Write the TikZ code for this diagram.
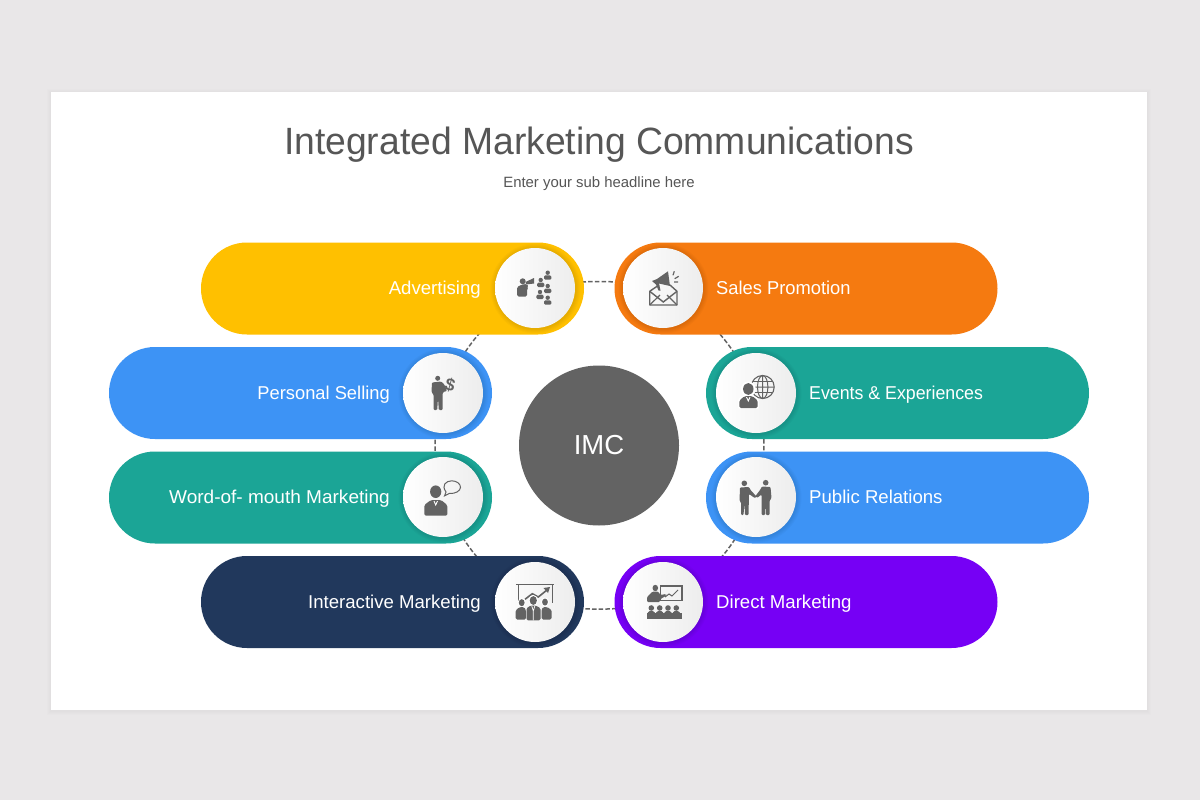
\documentclass[tikz,border=0pt]{standalone}
\usepackage{fontspec}
\setmainfont{Liberation Sans}
\usetikzlibrary{shapes.misc,backgrounds}
\definecolor{pagebg}{HTML}{E9E7E8}
\definecolor{ink}{HTML}{565656}
\definecolor{hubgrey}{HTML}{636363}
\definecolor{cyellow}{HTML}{FFC000}
\definecolor{cblue}{HTML}{3D93F5}
\definecolor{cteal}{HTML}{1BA596}
\definecolor{cnavy}{HTML}{21385C}
\definecolor{corange}{HTML}{F57A10}
\definecolor{cpurple}{HTML}{7600F5}
\definecolor{discend}{HTML}{EDEDED}
\pgfdeclarelayer{conn}
\pgfsetlayers{background,conn,main}
\tikzset{
  pill/.style={rounded rectangle,minimum width=383pt,minimum height=92pt,inner sep=0pt,fill=#1,draw=none},
  disc/.style={circle,minimum size=80pt,inner sep=0pt,left color=white,right color=discend,draw=none},
  lab/.style={text=white,inner sep=0pt,font=\fontsize{18.6}{22}\selectfont,transform shape},
  link/.style={draw=hubgrey,line width=1.5pt,dash pattern=on 4.5pt off 2.2pt},
  ic/.style={fill=hubgrey,draw=none},
  icl/.style={draw=hubgrey,line width=1.2pt,fill=none},
}
\newcommand{\discshadow}[2]{%
  \foreach \rr in {41,42,43,44,45}{\fill[black,opacity=0.02] (#1+0.5,#2+0.5) circle (\rr);}}
\newcommand{\bust}[6]{%
  \fill[ic] (#1,#2) circle (#3);
  \fill[ic,rounded corners=1.2pt] (#1-#4,#6) -- (#1-#4,#5) -- (#1+#4,#5) -- (#1+#4,#6) -- cycle;}
\begin{document}
\begin{tikzpicture}[x=1pt,y=-1pt]
\useasboundingbox (0,0) rectangle (1200,800);
% pills
\node[pill=cyellow] (padv) at (392.5,288.5) {};
\node[pill=cblue]   (ppers) at (300.5,393) {};
\node[pill=cteal]   (pwom) at (300.5,497.5) {};
\node[pill=cnavy]   (pinter) at (392.5,602) {};
\node[pill=corange] (psales) at (806,288.5) {};
\node[pill=cteal]   (pevent) at (897.5,393) {};
\node[pill=cblue]   (ppr) at (897.5,497.5) {};
\node[pill=cpurple] (pdirect) at (806,602) {};
% disc shadows
\discshadow{535}{288}\discshadow{443}{393}\discshadow{443}{497}\discshadow{535}{602}
\discshadow{663}{288}\discshadow{756}{393}\discshadow{756}{497}\discshadow{663}{602}
% discs
\node[disc] (dadv) at (535,288) {};
\node[disc] (dpers) at (443,393) {};
\node[disc] (dwom) at (443,497) {};
\node[disc] (dinter) at (535,602) {};
\node[disc] (dsales) at (663,288) {};
\node[disc] (devent) at (756,393) {};
\node[disc] (dpr) at (756,497) {};
\node[disc] (ddirect) at (663,602) {};
% hub
\node[circle,minimum size=160pt,inner sep=0pt,fill=hubgrey,text=white,font=\fontsize{27.5}{32}\selectfont] (hub) at (599,445.5) {IMC};
% titles
\node[text=ink,inner sep=0pt,font=\fontsize{38}{44}\selectfont,anchor=base,xscale=0.981,transform shape] (title) at (599,154) {Integrated Marketing Communications};
\node[text=ink,inner sep=0pt,font=\fontsize{14.9}{19}\selectfont,anchor=base] (subtitle) at (599,187.5) {Enter your sub headline here};
% labels
\node[lab,anchor=base east] (ladv) at (481,294) {Advertising};
\node[lab,anchor=base east,xscale=0.985] (lpers) at (390,399) {Personal Selling};
\node[lab,anchor=base east,xscale=1.023] (lwom) at (390,503) {Word-of- mouth Marketing};
\node[lab,anchor=base east] (linter) at (481,608) {Interactive Marketing};
\node[lab,anchor=base west,xscale=0.985] (lsales) at (716,294) {Sales Promotion};
\node[lab,anchor=base west,xscale=0.955] (levent) at (809,399) {Events \& Experiences};
\node[lab,anchor=base west] (lpr) at (809,503) {Public Relations};
\node[lab,anchor=base west] (ldirect) at (716,608) {Direct Marketing};
% icons
% advertising
\begin{scope}[shift={(dadv.center)}]
  \fill[ic] (-12.3,-6.7) circle (3);
  \fill[ic,rounded corners=1.5pt] (-18,8.5) -- (-18,-1) -- (-13,-3.5) -- (-8,-4) -- (-6.5,-1) -- (-8,1) -- (-8,8.5) -- cycle;
  \fill[ic] (-9.5,-6) -- (-1,-10) -- (-1,-4.5) -- (-9,-3.5) -- cycle;
  \foreach \px/\py in {12.7/-13.3,5.7/-6,12.7/0,5/6,12.7/11.7}{\bust{\px}{\py-2}{2.2}{3.6}{\py+0.7}{\py+5}}
\end{scope}
% sales
\begin{scope}[shift={(dsales.center)}]
  \draw[icl,line width=1.4pt,line join=round] (-4,-3) -- (-13.3,3.3) -- (-13.3,17) -- (14,17) -- (14,3.3) -- (7,-3);
  \draw[icl,line width=1.4pt] (-13.3,3.3) -- (0.3,14) -- (14,3.3);
  \draw[icl] (-13.3,17) -- (-3,7);
  \draw[icl] (14,17) -- (4,7);
  \fill[ic] (-11,-7) -- (-6,-9) -- (5,-16.7) -- (7,-2) -- (-4,-4.5) -- (-2.5,2.5) -- (-4.5,2.5) -- (-7,-3.5) -- cycle;
  \draw[icl] (10,-12.7) -- (11.3,-16.7) (11.7,-9.3) -- (15.7,-11.7) (11,-6) -- (15,-6);
\end{scope}
% personal selling
\begin{scope}[shift={(dpers.center)}]
  \fill[ic] (-5.3,-14.7) circle (2.5);
  \fill[ic,rounded corners=1pt] (-11,-10.5) -- (-2,-11.5) -- (1,-9) -- (4,-2) -- (0,-1) -- (-0.5,2) -- (-0.5,17) -- (-4.2,17) -- (-5,5) -- (-5.8,17) -- (-9.3,17) -- (-9.3,2) -- (-11.5,-1) -- cycle;
  \node[text=hubgrey,inner sep=0pt,font=\fontsize{17.5}{17}\selectfont\bfseries,rotate=-15] (dollar) at (7,-8) {\$};
\end{scope}
% word of mouth
\begin{scope}[shift={(dwom.center)}]
  \fill[ic] (-7.3,-5.3) ellipse (5.6 and 6.3);
  \fill[ic,rounded corners=1.5pt] (-18.7,18.7) -- (-18.7,8) -- (-12,3) -- (-2,3) -- (4.3,8) -- (4.3,18.7) -- cycle;
  \draw[white,line width=.9pt] (-9,4) -- (-7.3,8) -- (-5.5,4);
  \draw[icl,line width=1pt,fill=none] (1.6,-1.2) -- (3,-5) .. controls (-2,-12) and (3,-16) .. (8.7,-16.2) .. controls (14,-16.2) and (17.5,-13) .. (17.5,-9.7) .. controls (17.5,-6) and (12,-3) .. (6.5,-3.6) -- cycle;
\end{scope}
% events
\begin{scope}[shift={(devent.center)}]
  \draw[icl,line width=1.1pt] (6.7,-6) circle (11.5);
  \draw[icl,line width=1pt] (6.7,-6) ellipse (5.2 and 11.5) (6.7,-17.5) -- (6.7,5.5) (-4.8,-6) -- (18.2,-6);
  \draw[icl,line width=1pt] (-3,-11.5) -- (16.4,-11.5) (-3,-0.5) -- (16.4,-0.5);
  \fill[white] (-7.7,-4) circle (7.5);
  \fill[white,rounded corners=1.5pt] (-18,16) -- (-18,6) -- (-11,1.5) -- (-4,1.5) -- (3,6) -- (3,16) -- cycle;
  \fill[ic] (-7.7,-4) ellipse (5.2 and 6);
  \fill[ic,rounded corners=1.5pt] (-16.7,15) -- (-16.7,7.5) -- (-11.5,3.2) -- (-3.5,3.2) -- (1.7,7.5) -- (1.7,15) -- cycle;
  \draw[white,line width=.9pt] (-9.5,4) -- (-7.7,8) -- (-6,4);
\end{scope}
% public relations
\begin{scope}[shift={(dpr.center)}]
  \fill[ic] (-11.7,-13.7) circle (2.8);
  \fill[ic] (9.7,-14.3) circle (2.8);
  \fill[ic,rounded corners=1pt] (-16,-9.5) -- (-7,-10) -- (-5.5,-7) -- (0.5,-0.5) -- (-1,1.2) -- (-7,-3) -- (-7.5,18) -- (-11,18) -- (-11.5,6) -- (-12.5,18) -- (-15,18) -- (-15,5) -- (-16.5,4) -- cycle;
  \fill[ic,rounded corners=1pt] (14.5,-10) -- (6,-10.5) -- (4,-7) -- (-0.5,-1) -- (1,1) -- (5.5,-2.5) -- (5.5,18) -- (9,18) -- (9.5,6) -- (10,18) -- (13.5,18) -- (13.5,4) -- (15.5,1) -- cycle;
\end{scope}
% interactive
\begin{scope}[shift={(dinter.center)}]
  \draw[icl,line width=1.4pt] (-16.7,1) -- (-16.7,-17.7) (-18.7,-17.7) -- (19.3,-17.7) (17.7,-17.7) -- (17.7,1);
  \draw[icl,line width=1.6pt] (-10,-2.7) -- (-2.7,-8.3) -- (3.3,-5) -- (12,-12);
  \fill[ic] (15,-15) -- (8.5,-14) -- (13,-9) -- cycle;
  \fill[white] (-13.3,0.7) ellipse (4 and 4.6);
  \fill[white] (10,0) ellipse (4 and 4.6);
  \fill[white] (-1.7,-1.5) ellipse (4.7 and 5.5);
  \fill[ic] (-13.3,0.7) ellipse (2.9 and 3.5);
  \fill[ic,rounded corners=1.5pt] (-19.3,17.5) -- (-19.3,8) -- (-15,5) -- (-11,5) -- (-9,8) -- (-9,17.5) -- cycle;
  \fill[ic] (10,0) ellipse (2.9 and 3.5);
  \fill[ic,rounded corners=1.5pt] (6.5,17.5) -- (6.5,8) -- (8,5) -- (12,5) -- (16.7,8) -- (16.7,17.5) -- cycle;
  \fill[ic] (-1.7,-1.5) ellipse (3.6 and 4.4);
  \fill[ic,rounded corners=1.5pt] (-8.5,18.3) -- (-8.5,6) -- (-4,3.5) -- (0.5,3.5) -- (5.5,6) -- (5.5,18.3) -- cycle;
  \draw[white,line width=.7pt] (-3.2,4) -- (-1.7,9) -- (-0.2,4) (-1.7,9) -- (-1.7,18.3);
\end{scope}
% direct
\begin{scope}[shift={(ddirect.center)}]
  \draw[icl,line width=1.2pt] (-2.7,-16) rectangle (19,-1.7);
  \draw[icl,line width=1pt] (2,-5) -- (6,-8) -- (9,-6) -- (15,-12);
  \fill[ic] (-7.7,-14) ellipse (2.8 and 3.2);
  \fill[ic,rounded corners=1.2pt] (-16,0) -- (-16,-5) -- (-10.5,-10.5) -- (-5,-10.5) -- (-2.5,-7) -- (3,-8) -- (3.5,-6.5) -- (-2.5,-3) -- (-3,0) -- cycle;
  \foreach \px in {-11.7,-3.3,5,13.3}{%
    \fill[ic] (\px,6) circle (2.8);
    \fill[ic,rounded corners=1.5pt] (\px-4,12) -- (\px-3,9) -- (\px+3,9) -- (\px+4,12) -- cycle;}
  \fill[ic] (-16,11) rectangle (18.8,16.7);
\end{scope}
% connectors under the pills
\begin{pgfonlayer}{conn}
\draw[link] (dadv.center) to[bend left=10] (dsales.center);
\draw[link] (dsales.center) to[bend left=17] (devent.center);
\draw[link] (devent.center) to[bend left=15] (dpr.center);
\draw[link] (dpr.center) to[bend left=20] (ddirect.center);
\draw[link] (ddirect.center) to[bend left=11] (dinter.center);
\draw[link] (dinter.center) to[bend left=20] (dwom.center);
\draw[link] (dwom.center) to[bend left=15] (dpers.center);
\draw[link] (dpers.center) to[bend left=17] (dadv.center);
\end{pgfonlayer}
% card and page
\begin{pgfonlayer}{background}
\fill[pagebg] (0,0) rectangle (1200,800);
\foreach \gg in {1,2,3,4}{\fill[black,opacity=0.008] (51-\gg,92-\gg+1) rectangle (1147+\gg,710+\gg+1);}
\fill[white] (51,92) rectangle (1147,710);
\end{pgfonlayer}
\end{tikzpicture}
\end{document}
